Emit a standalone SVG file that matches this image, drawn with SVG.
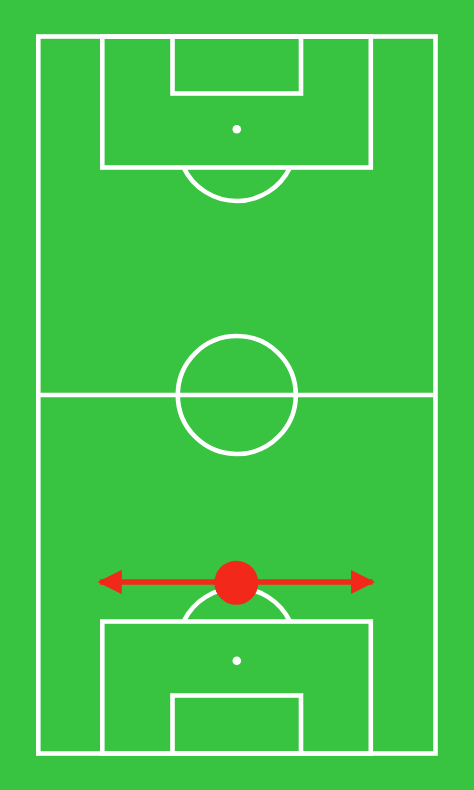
<svg xmlns="http://www.w3.org/2000/svg" width="474" height="790" viewBox="0 0 474 790">
  <style>
    .line { fill: none; stroke: #ffffff; stroke-width: 4.6; }
    .spot { fill: #ffffff; }
    .arrow { stroke: #f2281a; stroke-width: 5.5; fill: none; }
    .red { fill: #f2281a; }
  </style>
  <defs>
    <marker id="head" viewBox="0 0 10 10" refX="9" refY="5" markerWidth="4.4" markerHeight="4.4" orient="auto-start-reverse" markerUnits="strokeWidth">
      <path d="M0,0 L10,5 L0,10 Z" fill="#f2281a"/>
    </marker>
  </defs>
  <rect x="0" y="0" width="474" height="790" fill="#38c340"/>
  <g id="pitch">
    <rect class="line" x="38.3" y="36.5" width="397.2" height="717"/>
    <line class="line" x1="38.3" y1="395" x2="435.5" y2="395"/>
    <circle class="line" cx="236.8" cy="395" r="59"/>
  </g>
  <g id="top-box">
    <rect class="line" x="102.3" y="36.5" width="268.5" height="131"/>
    <rect class="line" x="172.5" y="36.5" width="128.5" height="57"/>
    <circle class="spot" cx="236.8" cy="129.3" r="4.3"/>
    <path class="line" d="M183.6,167.5 A59,59 0 0 0 290,167.5"/>
  </g>
  <g id="bottom-box">
    <rect class="line" x="102.3" y="621.5" width="268.5" height="132"/>
    <rect class="line" x="172.5" y="695.5" width="128.5" height="58"/>
    <circle class="spot" cx="236.8" cy="660.7" r="4.3"/>
    <path class="line" d="M183.6,621.5 A59,59 0 0 1 290,621.5"/>
  </g>
  <g id="connectors">
    <line class="arrow" x1="100" y1="582" x2="372.5" y2="582" marker-start="url(#head)" marker-end="url(#head)"/>
  </g>
  <g id="ball">
    <circle class="red" cx="236.3" cy="582.8" r="22"/>
  </g>
</svg>
